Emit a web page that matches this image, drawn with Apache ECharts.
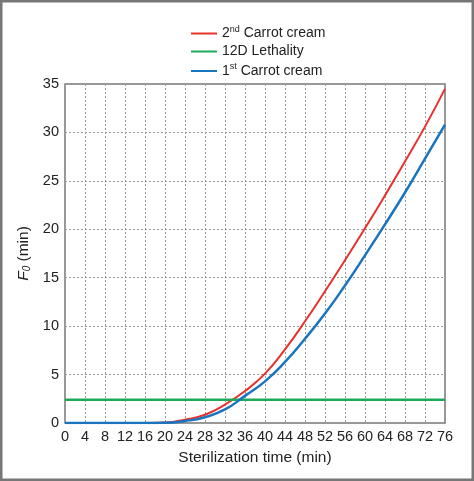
<!DOCTYPE html>
<html><head><meta charset="utf-8">
<script src="https://cdn.jsdelivr.net/npm/echarts@6/dist/echarts.min.js"></script>
<style>html,body{margin:0;padding:0;background:#fff}#c{width:474px;height:481px}</style>
</head><body><div id="c"></div>
<script>
const times = [0,4,8,12,16,20,24,28,32,36,40,44,48,52,56,60,64,68,72,76];
const carrot2 = [0,0,0,0,0,0.05,0.35,0.85,1.9,3.3,5.1,7.6,10.5,13.6,16.8,20.1,23.5,27.0,30.6,34.5];
const carrot1 = [0,0,0,0,0,0.02,0.2,0.6,1.4,2.8,4.3,6.3,8.7,11.3,14.2,17.3,20.5,23.8,27.3,30.8];
const lethality = times.map(()=>2.4);
const xTicks = [0,76,4];
const yTicks = [0,35,5];
const ch = echarts.init(document.getElementById('c'));
const pair = a => times.map((t,i)=>[t,a[i]]);
const lab = {fontFamily:'Liberation Sans, Arial', fontSize:14.5, color:'#222'};
ch.setOption({
  animation:false,
  textStyle:{fontFamily:'Liberation Sans, Arial'},
  graphic:[{type:'rect',shape:{x:1,y:1,width:472,height:479},style:{fill:'none',stroke:'#777',lineWidth:3},silent:true}],
  legend:{orient:'vertical',left:186,top:20,itemGap:4,itemWidth:26,itemHeight:2,icon:'rect',
    textStyle:{fontSize:14,color:'#222',rich:{n:{fontSize:14,color:'#222'},s:{fontSize:9,color:'#222',verticalAlign:'top',padding:[0,0,8,0]}}},
    formatter:function(n){
      if(n==='2nd Carrot cream') return '{n|2}{s|nd}{n| Carrot cream}';
      if(n==='1st Carrot cream') return '{n|1}{s|st}{n| Carrot cream}';
      return '{n|'+n+'}';
    },
    data:['2nd Carrot cream','12D Lethality','1st Carrot cream']},
  grid:{left:65,right:29,top:84,bottom:58,show:true,borderColor:'#777',borderWidth:1.5},
  xAxis:{type:'value',min:xTicks[0],max:xTicks[1],interval:xTicks[2],
    name:'Sterilization time (min)',nameLocation:'middle',nameGap:27,nameTextStyle:{...lab,fontSize:15.5},
    axisLine:{show:false},axisTick:{show:false},axisLabel:{...lab,margin:6},
    splitLine:{show:true,lineStyle:{color:'#999',type:[2,2],width:1}}},
  yAxis:{type:'value',min:yTicks[0],max:yTicks[1],interval:yTicks[2],
    name:'{i|F}{s|0}{n| (min)}',nameLocation:'middle',nameGap:32,
    nameTextStyle:{...lab,fontSize:15,rich:{i:{fontSize:15.5,fontStyle:'italic',color:'#222'},s:{fontSize:10,fontStyle:'italic',color:'#222',verticalAlign:'bottom',padding:[6,0,0,0]},n:{fontSize:15.5,color:'#222'}}},
    axisLine:{show:false},axisTick:{show:false},axisLabel:{...lab,margin:6},
    splitLine:{show:true,lineStyle:{color:'#999',type:[2,2],width:1}}},
  series:[
    {name:'2nd Carrot cream',type:'line',data:pair(carrot2),smooth:0.5,showSymbol:false,color:'#e8312b',lineStyle:{width:2}},
    {name:'12D Lethality',type:'line',data:pair(lethality),showSymbol:false,color:'#1faa5a',lineStyle:{width:2.5}},
    {name:'1st Carrot cream',type:'line',data:pair(carrot1),smooth:0.5,showSymbol:false,color:'#1a75c0',lineStyle:{width:2.5}}
  ]
});
</script></body></html>
